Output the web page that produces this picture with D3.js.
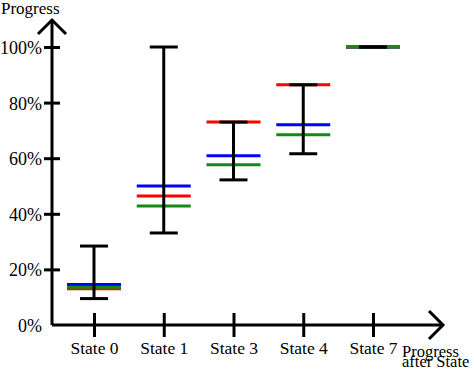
<!DOCTYPE html>
<html lang="en">
<head>
	<meta charset="UTF-8">
	<title>progress after state</title>
	<style>
		* { margin: 0; padding: 0; }
		body { background: #fff; }
		svg { display: block; }
	</style>
</head>
<body>
	<script src="https://cdn.jsdelivr.net/npm/d3@7"></script>
	<script>
		// states on the x axis
		var states = ['State 0', 'State 1', 'State 3', 'State 4', 'State 7'];
		// black error bars (min / max)
		var minVals = [9.5, 33.1, 52.2, 61.6, 100];
		var maxVals = [28.4, 100, 73.0, 86.4, 100];
		// coloured lines
		var redVals = [13.0, 46.4, 73.0, 86.4, 100];
		var blueVals = [14.6, 50.0, 60.9, 72.0, 100];
		var greenVals = [13.6, 42.8, 57.6, 68.4, 100];
		var yTicks = [0, 20, 40, 60, 80, 100];

		var W = 474, H = 370;
		var x0 = 52, y0 = 325; // origin of the axes

		var svg = d3.select('body').append('svg').attr('width', W).attr('height', H);

		var x = d3.scalePoint().domain(states).range([94, 373]);
		var y = d3.scaleLinear().domain([0, 100]).range([y0, 47]);

		var g = svg.append('g');

		// y axis (labels end ~10px left of the axis line)
		var yAxis = g.append('g')
			.attr('transform', 'translate(' + x0 + ',0)')
			.call(d3.axisLeft(y).tickValues(yTicks).tickFormat(function (d) { return d + '%'; }).tickSize(8).tickPadding(2));
		yAxis.select('.domain').remove();
		yAxis.selectAll('.tick line')
			.attr('x1', -8).attr('x2', 8)
			.attr('stroke', '#000').attr('stroke-width', 3)
			.filter(function (d) { return d === 0; }).remove();
		yAxis.selectAll('.tick text')
			.style('font-size', '18px')
			.attr('dy', '0.36em');

		// x axis
		var xAxis = g.append('g')
			.attr('transform', 'translate(0,' + y0 + ')')
			.call(d3.axisBottom(x).tickSize(12).tickPadding(10));
		xAxis.select('.domain').remove();
		xAxis.selectAll('.tick line')
			.attr('y1', -12).attr('y2', 12)
			.attr('stroke', '#000').attr('stroke-width', 3);
		xAxis.selectAll('.tick text')
			.style('font-size', '17.5px')
			.attr('y', 29).attr('dy', 0);

		// axis lines with arrows
		var axisLines = [
			[[x0, y0], [x0, 21]],
			[[38, 34], [x0, 20], [66, 34]],
			[[x0, y0], [442, y0]],
			[[429, 311], [443, y0], [429, 339]]
		];
		g.selectAll('path.axisline')
			.data(axisLines)
			.enter()
			.append('path')
			.attr('class', 'axisline')
			.attr('d', d3.line())
			.attr('fill', 'none')
			.attr('stroke', '#000')
			.attr('stroke-width', 3);

		// axis titles
		svg.append('text').attr('x', 1).attr('y', 14).style('font-size', '17px').text('Progress');
		var xt = svg.append('text').attr('x', 402).attr('y', 357).style('font-size', '16.5px');
		xt.append('tspan').attr('x', 402).text('Progress');
		xt.append('tspan').attr('x', 402).attr('y', 367).text('after State');

		// coloured lines
		var series = [
			{ vals: redVals, color: '#ff0000' },
			{ vals: blueVals, color: '#0000ff' },
			{ vals: greenVals, color: '#138a13' }
		];
		var halfLine = 27;
		series.forEach(function (s) {
			g.selectAll(null)
				.data(states)
				.enter()
				.append('line')
				.attr('x1', function (d) { return x(d) - halfLine; })
				.attr('x2', function (d) { return x(d) + halfLine; })
				.attr('y1', function (d, i) { return y(s.vals[i]); })
				.attr('y2', function (d, i) { return y(s.vals[i]); })
				.attr('stroke', s.color)
				.attr('stroke-width', 3);
		});

		// black error bars
		var halfCap = 14;
		var bars = g.selectAll('g.bar')
			.data(states)
			.enter()
			.append('g')
			.attr('class', 'bar');
		bars.append('line')
			.attr('x1', function (d) { return x(d); })
			.attr('x2', function (d) { return x(d); })
			.attr('y1', function (d, i) { return y(minVals[i]); })
			.attr('y2', function (d, i) { return y(maxVals[i]); });
		bars.append('line')
			.attr('x1', function (d) { return x(d) - halfCap; })
			.attr('x2', function (d) { return x(d) + halfCap; })
			.attr('y1', function (d, i) { return y(maxVals[i]); })
			.attr('y2', function (d, i) { return y(maxVals[i]); });
		bars.append('line')
			.attr('x1', function (d) { return x(d) - halfCap; })
			.attr('x2', function (d) { return x(d) + halfCap; })
			.attr('y1', function (d, i) { return y(minVals[i]); })
			.attr('y2', function (d, i) { return y(minVals[i]); });
		bars.selectAll('line').attr('stroke', '#000').attr('stroke-width', 3);

		// one serif face for every text
		svg.selectAll('text').style('font-family', '"Liberation Serif"').style('fill', '#000');
	</script>
</body>
</html>
